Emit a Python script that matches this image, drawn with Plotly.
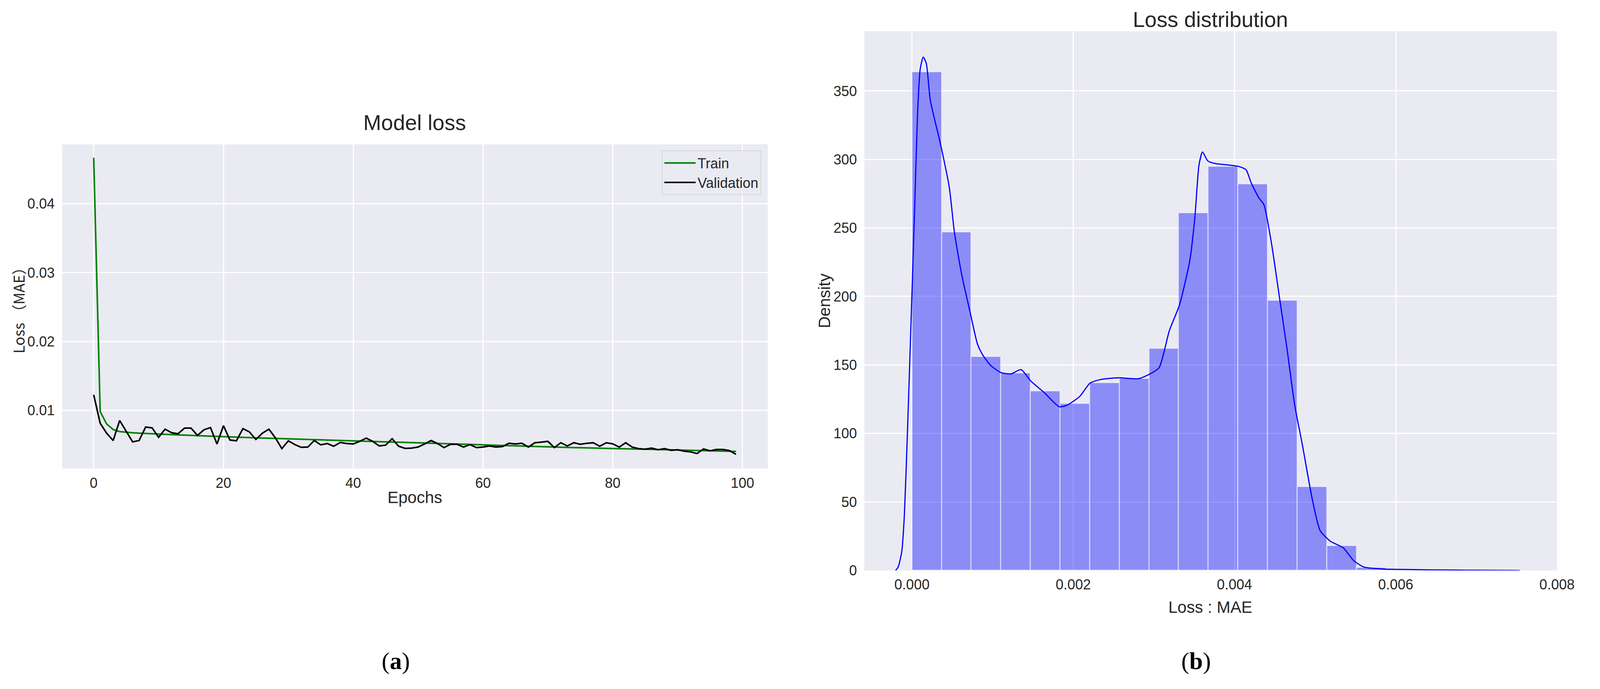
import plotly.graph_objects as go

W, H = 4357, 1764

# ---------------- data: panel (a) ----------------
epochs = list(range(100))
train_loss = [
    0.0467, 0.0098, 0.0080, 0.0072, 0.0069, 0.0068, 0.00672, 0.00667, 0.00662, 0.00658,
    0.00654, 0.00650, 0.00646, 0.00642, 0.00638, 0.00634, 0.00630, 0.00626, 0.00622, 0.00618,
    0.00614, 0.00611, 0.00608, 0.00605, 0.00602, 0.00599, 0.00596, 0.00593, 0.00590, 0.00587,
    0.00584, 0.00581, 0.00578, 0.00575, 0.00572, 0.00569, 0.00566, 0.00563, 0.00560, 0.00557,
    0.00554, 0.00551, 0.00548, 0.00545, 0.00542, 0.00539, 0.00536, 0.00533, 0.00530, 0.00527,
    0.00524, 0.00521, 0.00518, 0.00515, 0.00512, 0.00509, 0.00506, 0.00503, 0.00500, 0.00497,
    0.00494, 0.00491, 0.00488, 0.00485, 0.00482, 0.00480, 0.00477, 0.00474, 0.00472, 0.00469,
    0.00467, 0.00464, 0.00462, 0.00459, 0.00457, 0.00455, 0.00452, 0.00450, 0.00448, 0.00446,
    0.00444, 0.00442, 0.00440, 0.00438, 0.00436, 0.00434, 0.00432, 0.00430, 0.00428, 0.00426,
    0.00424, 0.00422, 0.00420, 0.00418, 0.00416, 0.00414, 0.00412, 0.00410, 0.00406, 0.00402,
]
val_loss = [
    0.01224, 0.00811, 0.00666, 0.00560, 0.00851, 0.00693, 0.00540, 0.00560, 0.00756, 0.00744,
    0.00607, 0.00725, 0.00674, 0.00658, 0.00741, 0.00741, 0.00634, 0.00717, 0.00748, 0.00509,
    0.00776, 0.00567, 0.00556, 0.00733, 0.00685, 0.00575, 0.00666, 0.00725, 0.00599, 0.00442,
    0.00556, 0.00501, 0.00461, 0.00465, 0.00560, 0.00497, 0.00516, 0.00477, 0.00532, 0.00516,
    0.00509, 0.00548, 0.00595, 0.00548, 0.00481, 0.00493, 0.00587, 0.00477, 0.00446, 0.00450,
    0.00465, 0.00509, 0.00560, 0.00516, 0.00457, 0.00505, 0.00505, 0.00465, 0.00501, 0.00457,
    0.00465, 0.00481, 0.00465, 0.00473, 0.00520, 0.00509, 0.00520, 0.00465, 0.00528, 0.00536,
    0.00548, 0.00457, 0.00528, 0.00481, 0.00528, 0.00505, 0.00520, 0.00528, 0.00477, 0.00528,
    0.00512, 0.00465, 0.00528, 0.00465, 0.00442, 0.00434, 0.00450, 0.00426, 0.00442, 0.00418,
    0.00426, 0.00406, 0.00395, 0.00371, 0.00438, 0.00410, 0.00430, 0.00430, 0.00414, 0.00359,
]
epoch_ticks = [0, 20, 40, 60, 80, 100]
loss_ticks = [0.01, 0.02, 0.03, 0.04]

# ---------------- data: panel (b) ----------------
bin_starts = [0.0, 0.0003675, 0.000735, 0.0011025, 0.00147, 0.0018375, 0.002205,
              0.0025725, 0.00294, 0.0033075, 0.003675, 0.0040425, 0.00441, 0.0047775,
              0.005145, 0.0055125, 0.00588, 0.0062475, 0.006615, 0.0069825]
bin_width = 0.0003675
hist_density = [364, 247, 156, 144, 131, 122, 137, 140, 162, 261,
                295, 282, 197, 61, 18, 2.2, 0.6, 0.3, 0.2, 0.2]
kde_x = [-0.000203, -0.000171, -0.000127, -0.000095, -0.000057, -0.000025, 0.000006,
         0.000038, 0.000070, 0.000102, 0.000140, 0.000178, 0.000228, 0.000355,
         0.000463, 0.000527, 0.000620, 0.000723, 0.000812, 0.000870, 0.000970, 0.001100,
         0.001230, 0.001352, 0.001478, 0.001637, 0.001827, 0.001923, 0.002081, 0.002208,
         0.002335, 0.002557, 0.002811, 0.002938, 0.003065, 0.003192, 0.003319, 0.003445,
         0.003509, 0.003560, 0.003604, 0.003668, 0.003763, 0.003921, 0.004048, 0.004143,
         0.004207, 0.004302, 0.004365, 0.004461, 0.004556, 0.004651, 0.004746, 0.004841,
         0.004968, 0.005063, 0.005190, 0.005349, 0.005476, 0.005603, 0.005857, 0.006200,
         0.006618, 0.007100, 0.007538]
kde_y = [0, 2.5, 13.6, 39.4, 99.3, 156.4, 213.6,
         273.9, 334.2, 365.9, 374.8, 370.1, 343.1, 311,
         279.6, 246.6, 215, 188, 165.3, 158, 150, 144.5,
         143.5, 146.6, 138, 130, 119.5, 120.6, 127, 136.7,
         139.3, 140.6, 140, 143, 148, 175, 194, 226,
         258, 296, 305.5, 299, 297, 296, 295, 292.5,
         283, 272, 267, 238, 200, 162, 121, 92,
         51, 29, 21.3, 16.5, 7.3, 2.5, 1.0, 0.6,
         0.3, 0.15, 0.0]
mae_ticks = [0.000, 0.002, 0.004, 0.006, 0.008]
density_ticks = [0, 50, 100, 150, 200, 250, 300, 350]

# ---------------- styling helpers ----------------
BG = "#EAEAF2"
TXT = "#262626"
FONT = "Liberation Sans, Arial, sans-serif"


def px(x):
    return x / W


def py(y):
    return 1 - y / H


fig = go.Figure()

fig.add_trace(go.Scatter(x=epochs, y=train_loss, mode="lines", name="Train",
                         line=dict(color="#008000", width=4), xaxis="x", yaxis="y"))
fig.add_trace(go.Scatter(x=epochs, y=val_loss, mode="lines", name="Validation",
                         line=dict(color="#000000", width=4), xaxis="x", yaxis="y"))

bin_centers = [b + bin_width / 2 for b in bin_starts]
fig.add_trace(go.Bar(x=bin_centers, y=hist_density, width=bin_width,
                     marker=dict(color="rgba(0,0,255,0.4)",
                                 line=dict(color="rgba(255,255,255,0.55)", width=2.5)),
                     showlegend=False, xaxis="x2", yaxis="y2"))
fig.add_trace(go.Scatter(x=kde_x, y=kde_y, mode="lines",
                         line=dict(color="#0000FF", width=3, shape="spline", smoothing=0.6),
                         showlegend=False, xaxis="x2", yaxis="y2"))

axis_common = dict(showgrid=True, gridcolor="white", gridwidth=3, zeroline=False,
                   showline=False, ticks="", tickfont=dict(family=FONT, size=36, color=TXT))

fig.update_layout(
    width=W, height=H,
    autosize=False,
    margin=dict(l=0, r=0, t=0, b=0, pad=0),
    paper_bgcolor="white", plot_bgcolor=BG,
    bargap=0,
    xaxis=dict(domain=[px(171), px(2114)], range=[-4.87, 103.9], tickvals=epoch_ticks,
               anchor="y", ticklabelstandoff=12, **axis_common),
    yaxis=dict(domain=[py(1214), py(374)], range=[0.00153, 0.04864], tickvals=loss_ticks,
               ticktext=[f"{v:.2f}" for v in loss_ticks], anchor="x",
               ticklabelstandoff=18, **axis_common),
    xaxis2=dict(domain=[px(2380), px(4287)], range=[-0.00059, 0.008], tickvals=mae_ticks,
                ticktext=[f"{v:.3f}" for v in mae_ticks], anchor="y2",
                ticklabelstandoff=12, **axis_common),
    yaxis2=dict(domain=[py(1478), py(81)], range=[0, 393.6], tickvals=density_ticks,
                anchor="x2", ticklabelstandoff=18, **axis_common),
    legend=dict(x=px(2096), y=py(390), xanchor="right", yanchor="top",
                bgcolor="rgba(234,234,242,0.85)", bordercolor="#D5D5DD", borderwidth=2,
                font=dict(family=FONT, size=36, color=TXT), itemwidth=80,
                tracegroupgap=0),
    showlegend=True,
)

ann = []


def label(text, x, y, size, angle=0, family=FONT):
    ann.append(dict(text=text, x=px(x), y=py(y), xref="paper", yref="paper",
                    xanchor="center", yanchor="middle", showarrow=False, textangle=angle,
                    font=dict(family=family, size=size, color=TXT)))


label("Model loss", 1142, 318, 55)
label("Epochs", 1142, 1289, 42)
label("Loss （MAE）", 50, 794, 38, angle=-90, family="Noto Sans CJK SC")
label("Loss distribution", 3333, 51, 55)
label("Loss : MAE", 3333, 1573, 42)
label("Density", 2270, 780, 42, angle=-90)
ann.append(dict(text="(<b>a</b>)", x=px(1090), y=py(1713), xref="paper", yref="paper",
                xanchor="center", yanchor="middle", showarrow=False,
                font=dict(family="Liberation Serif, Times New Roman, serif", size=62, color="black")))
ann.append(dict(text="(<b>b</b>)", x=px(3293), y=py(1713), xref="paper", yref="paper",
                xanchor="center", yanchor="middle", showarrow=False,
                font=dict(family="Liberation Serif, Times New Roman, serif", size=62, color="black")))
fig.update_layout(annotations=ann)

fit_js = (
    "document.documentElement.style.margin='0';document.body.style.margin='0';"
    "document.body.style.padding='0';document.body.style.overflow='hidden';"
    "document.documentElement.style.overflow='hidden';"
    "var gd=document.getElementById('{plot_id}');"
    "var vw=document.documentElement.clientWidth||window.innerWidth;"
    "var vh=document.documentElement.clientHeight||window.innerHeight;"
    "if(vw>0&&vh>0&&(vw!==" + str(W) + "||vh!==" + str(H) + ")){Plotly.relayout(gd,{width:vw,height:vh});}"
)

fig.write_html(
    "out.html",
    config={"responsive": False, "displayModeBar": False},
    post_script=fit_js,
)
